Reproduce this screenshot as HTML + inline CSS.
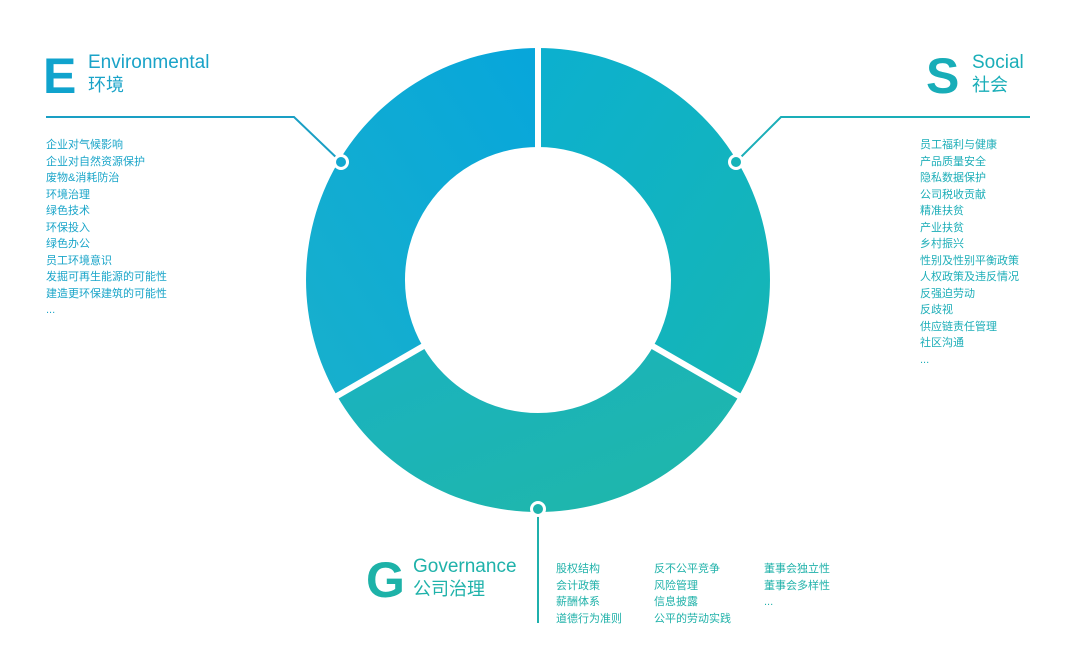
<!DOCTYPE html>
<html><head><meta charset="utf-8"><style>
html,body{margin:0;padding:0;background:#fff;}
body{width:1080px;height:648px;position:relative;overflow:hidden;font-family:"Liberation Sans","Noto Sans CJK SC",sans-serif;}
.t{position:absolute;white-space:nowrap;}
.big{font-weight:bold;font-size:50px;line-height:52px;}
.list{position:absolute;font-size:11px;line-height:16.5px;}
</style></head><body>
<svg width="1080" height="648" style="position:absolute;left:0;top:0">
<defs>
<linearGradient id="ge" x1="1" y1="0" x2="0" y2="1"><stop offset="0" stop-color="#07a6db"/><stop offset="1" stop-color="#18b0cc"/></linearGradient>
<linearGradient id="gs" x1="0" y1="0" x2="1" y2="1"><stop offset="0" stop-color="#0cb0cf"/><stop offset="1" stop-color="#16b6b4"/></linearGradient>
<linearGradient id="gg" x1="0" y1="0" x2="1" y2="1"><stop offset="0" stop-color="#1ab2c0"/><stop offset="1" stop-color="#1fb7a8"/></linearGradient>
</defs>
<path d="M538,48 A232,232 0 0 1 738.9,396 L653.2,346.5 A133,133 0 0 0 538,147 Z" fill="url(#gs)"/>
<path d="M738.9,396 A232,232 0 0 1 337.1,396 L422.8,346.5 A133,133 0 0 0 653.2,346.5 Z" fill="url(#gg)"/>
<path d="M337.1,396 A232,232 0 0 1 538,48 L538,147 A133,133 0 0 0 422.8,346.5 Z" fill="url(#ge)"/>
<g stroke="#fff" stroke-width="6">
<line x1="538" y1="40" x2="538" y2="152"/>
<line x1="649" y1="344" x2="746" y2="400"/>
<line x1="427" y1="344" x2="330" y2="400"/>
</g>
<g fill="none" stroke-width="2">
<polyline points="46,117 294,117 341,162" stroke="#1a9fc4"/>
<polyline points="1030,117 781,117 736,162" stroke="#1aaeb8"/>
<line x1="538" y1="509" x2="538" y2="623" stroke="#1fb0ac"/>
</g>
<circle cx="341" cy="162" r="8" fill="#fff"/><circle cx="341" cy="162" r="5" fill="#12a8d0"/>
<circle cx="736" cy="162" r="8" fill="#fff"/><circle cx="736" cy="162" r="5" fill="#14b3b8"/>
<circle cx="538" cy="509" r="8" fill="#fff"/><circle cx="538" cy="509" r="5" fill="#1db3ad"/>
</svg>

<div class="t big" style="left:43px;top:50px;color:#10a3cd;">E</div>
<div class="t" style="left:88px;top:52px;font-size:19px;color:#1aa3c8;line-height:22px;">Environmental</div>
<div class="t" style="left:88px;top:74px;font-size:18px;color:#1aa3c8;line-height:22px;">环境</div>
<div class="list" style="left:46px;top:137px;color:#1aa5c9;">企业对气候影响<br>企业对自然资源保护<br>废物&amp;消耗防治<br>环境治理<br>绿色技术<br>环保投入<br>绿色办公<br>员工环境意识<br>发掘可再生能源的可能性<br>建造更环保建筑的可能性<br>...</div>

<div class="t big" style="left:926px;top:50px;color:#18adb8;">S</div>
<div class="t" style="left:972px;top:52px;font-size:19px;color:#1aaeb8;line-height:22px;">Social</div>
<div class="t" style="left:972px;top:74px;font-size:18px;color:#1aaeb8;line-height:22px;">社会</div>
<div class="list" style="left:920px;top:137px;color:#1daeb8;">员工福利与健康<br>产品质量安全<br>隐私数据保护<br>公司税收贡献<br>精准扶贫<br>产业扶贫<br>乡村振兴<br>性别及性别平衡政策<br>人权政策及违反情况<br>反强迫劳动<br>反歧视<br>供应链责任管理<br>社区沟通<br>...</div>

<div class="t big" style="left:366px;top:554px;color:#1db2a8;">G</div>
<div class="t" style="left:413px;top:556px;font-size:19px;color:#1fb2aa;line-height:22px;">Governance</div>
<div class="t" style="left:413px;top:578px;font-size:18px;color:#1fb2aa;line-height:22px;">公司治理</div>
<div class="list" style="left:556px;top:561px;color:#21b2aa;">股权结构<br>会计政策<br>薪酬体系<br>道德行为准则</div>
<div class="list" style="left:654px;top:561px;color:#21b2aa;">反不公平竞争<br>风险管理<br>信息披露<br>公平的劳动实践</div>
<div class="list" style="left:764px;top:561px;color:#21b2aa;">董事会独立性<br>董事会多样性<br>...</div>
</body></html>
